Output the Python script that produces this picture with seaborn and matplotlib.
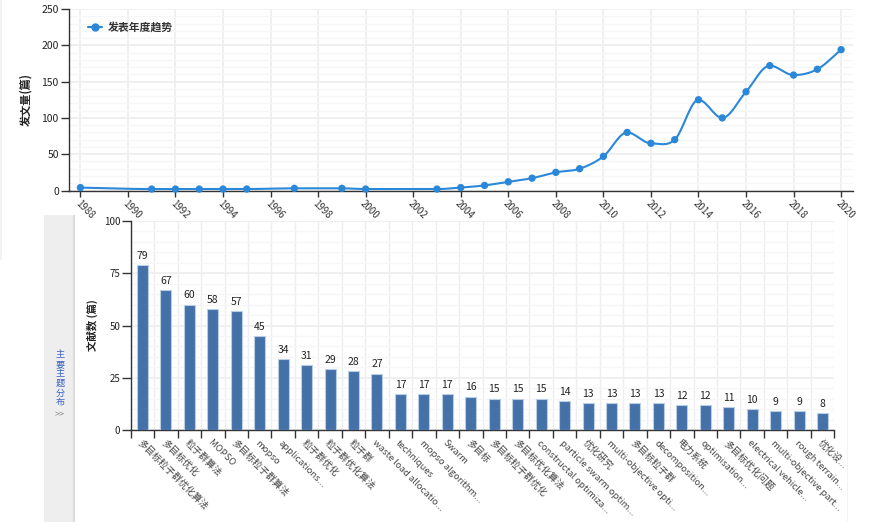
import numpy as np
import pandas as pd
import matplotlib
matplotlib.use('Agg')
import matplotlib.pyplot as plt
from matplotlib.patches import Rectangle
from matplotlib.ticker import MultipleLocator, FixedLocator
import seaborn as sns

# Datos
years = [1988, 1991, 1992, 1993, 1994, 1995, 1997, 1999, 2000, 2003, 2004, 2005, 2006, 2007,
         2008, 2009, 2010, 2011, 2012, 2013, 2014, 2015, 2016, 2017, 2018, 2019, 2020]
papers = [4, 2, 2, 2, 2, 2, 3, 3, 2, 2, 4, 7, 12, 17,
          25, 30, 47, 80, 65, 70, 125, 100, 136, 172, 159, 167, 194]

topics = ['多目标粒子群优化算法', '多目标优化', '粒子群算法', 'MOPSO', '多目标粒子群算法', 'mopso',
          'applications...', '粒子群优化', '粒子群优化算法', '粒子群', 'waste load allocatio...',
          'techniques', 'mopso algorithm...', 'Swarm', '多目标', '多目标粒子群优化', '多目标优化算法',
          'constructal optimiza...', 'particle swarm optim...', '优化研究', 'multi-objective opti...',
          '多目标粒子群', 'decomposition...', '电力系统', 'optimisation...', '多目标优化问题',
          'electrical vehicle...', 'multi-objective part...', 'rough terrain...', '优化设...']
counts = [79, 67, 60, 58, 57, 45, 34, 31, 29, 28, 27, 17, 17, 17, 16, 15, 15, 15, 14, 13, 13, 13, 13,
          12, 12, 11, 10, 9, 9, 8]

W, H = 872, 522
LINE_COLOR = '#2b88d8'
BAR_COLOR = '#4472a8'
GRID_MAJOR = '#eeeeee'
GRID_MINOR = '#f6f6f6'
AXIS_COLOR = '#333333'

sns.set_theme(style='white')
plt.rcParams['font.family'] = ['Noto Sans CJK SC', 'DejaVu Sans']


def px_axes(fig, left, top, right, bottom):
    return fig.add_axes([left / W, 1 - bottom / H, (right - left) / W, (bottom - top) / H])


def smooth_curve(x, y, steps=16):
    # curva suave entre puntos, tangente cero en los extremos locales
    x = np.array(x, dtype=float)
    y = np.array(y, dtype=float)
    dy = np.gradient(y, x)
    slopes = np.diff(y) / np.diff(x)
    for i in range(1, len(x) - 1):
        if slopes[i - 1] * slopes[i] <= 0:
            dy[i] = 0
    xs, ys = [], []
    for i in range(len(x) - 1):
        h = x[i + 1] - x[i]
        t = np.linspace(0, 1, steps, endpoint=False)
        a = 2 * t**3 - 3 * t**2 + 1
        b = t**3 - 2 * t**2 + t
        c = -2 * t**3 + 3 * t**2
        d = t**3 - t**2
        xs.extend(x[i] + t * h)
        ys.extend(a * y[i] + b * h * dy[i] + c * y[i + 1] + d * h * dy[i + 1])
    xs.append(x[-1])
    ys.append(y[-1])
    return np.array(xs), np.array(ys)


def style_axes(ax):
    for side in ['top', 'right']:
        ax.spines[side].set_visible(False)
    for side in ['left', 'bottom']:
        ax.spines[side].set_color(AXIS_COLOR)
        ax.spines[side].set_linewidth(1)
    ax.set_axisbelow(True)


fig = plt.figure(figsize=(W / 100, H / 100), dpi=100, facecolor='white')

# Paneles grises de la pagina
fig.add_artist(Rectangle((0, 1 - 260 / H), 2 / W, 260 / H, transform=fig.transFigure, color='#f3f3f3', lw=0))
fig.add_artist(Rectangle((44 / W, 0), 30 / W, 307 / H, transform=fig.transFigure, color='#eeeeee', lw=0))
fig.add_artist(Rectangle((73 / W, 0), 2 / W, 307 / H, transform=fig.transFigure, color='#dddddd', lw=0))
fig.add_artist(Rectangle((847 / W, 0), 1 / W, 307 / H, transform=fig.transFigure, color='#f3f3f3', lw=0))

# Tendencia anual
ax1 = px_axes(fig, 68.5, 9, 853, 190.5)
xs, ys = smooth_curve(years, papers)
sns.lineplot(x=xs, y=ys, ax=ax1, color=LINE_COLOR, lw=1.5, zorder=3)
sns.scatterplot(x=years, y=papers, ax=ax1, color=LINE_COLOR, s=28, edgecolor='none', zorder=4, clip_on=False)
ax1.set_xlim(1987.5, 2020.5)
ax1.set_ylim(0, 250)
ax1.yaxis.set_major_locator(MultipleLocator(50))
ax1.yaxis.set_minor_locator(MultipleLocator(10))
ax1.set_xticks(range(1988, 2021, 2))
ax1.set_xticklabels([str(y) for y in range(1988, 2021, 2)], rotation=-45, ha='left', va='top',
                    rotation_mode='anchor', fontsize=7, color='#333333')
ax1.tick_params(axis='x', which='major', length=4, width=1, color=AXIS_COLOR, pad=2, bottom=True)
ax1.tick_params(axis='y', which='major', length=6, width=1, color=AXIS_COLOR, pad=1, left=True,
                labelsize=7.5, labelcolor='#222222')
ax1.tick_params(axis='y', which='minor', length=0)
ax1.grid(True, which='major', color=GRID_MAJOR, lw=1.2)
ax1.grid(True, which='minor', axis='y', color=GRID_MINOR, lw=1)
style_axes(ax1)
ax1.set_ylabel('发文量(篇)', fontsize=8, fontweight='bold', color='#222222', va='center')
ax1.yaxis.set_label_coords((26 - 68.5) / 784.5, 0.5)
ax1.plot([0.025, 0.0427], [0.90, 0.90], transform=ax1.transAxes, color=LINE_COLOR, lw=1.5, zorder=5)
ax1.plot([0.0338], [0.90], marker='o', ms=5, transform=ax1.transAxes, color=LINE_COLOR, zorder=5)
ax1.text(0.05, 0.90, '发表年度趋势', transform=ax1.transAxes, fontsize=7.8, fontweight='bold',
         color='#333333', va='center')

# Temas principales
ax2 = px_axes(fig, 130.7, 221, 834.3, 430)
df_topics = pd.DataFrame({'topic': topics, 'count': counts})
sns.barplot(data=df_topics, x='topic', y='count', ax=ax2, color=BAR_COLOR, saturation=1, width=0.47,
            edgecolor='#b9cde4', linewidth=0.8, zorder=3)
ax2.set_xlim(-0.5, len(topics) - 0.5)
ax2.set_ylim(0, 100)
ax2.set_xlabel('')
ax2.set_ylabel('文献数 (篇)', fontsize=7.5, fontweight='bold', color='#222222', va='center')
ax2.yaxis.set_label_coords((92 - 130.7) / 703.6, 0.5)
ax2.yaxis.set_major_locator(MultipleLocator(25))
ax2.yaxis.set_minor_locator(MultipleLocator(5))
ax2.xaxis.set_minor_locator(FixedLocator(np.arange(-0.5, len(topics), 1)))
ax2.set_xticks(range(len(topics)))
ax2.set_xticklabels(topics, rotation=-45, ha='left', va='top', rotation_mode='anchor',
                    fontsize=6.8, color='#444444')
ax2.tick_params(axis='x', which='major', length=0, pad=6)
ax2.tick_params(axis='x', which='minor', length=5.5, width=1, color=AXIS_COLOR, bottom=True)
ax2.tick_params(axis='y', which='major', length=6.5, width=1, color=AXIS_COLOR, pad=1, left=True,
                labelsize=7, labelcolor='#222222')
ax2.tick_params(axis='y', which='minor', length=0)
ax2.grid(True, which='minor', axis='x', color=GRID_MAJOR, lw=1)
ax2.grid(True, which='major', axis='y', color=GRID_MAJOR, lw=1.2)
ax2.grid(True, which='minor', axis='y', color=GRID_MINOR, lw=1)
style_axes(ax2)
for i, v in enumerate(counts):
    ax2.text(i, v + 2, str(v), ha='center', va='bottom', fontsize=7.5, color='#222222')

# Pestana lateral
for i, ch in enumerate('主要主题分布'):
    fig.text(60 / W, 1 - (355 + i * 9.5) / H, ch, ha='center', va='center', fontsize=6.6, color='#3a63c4')
fig.text(60 / W, 1 - 415 / H, '>>', ha='center', va='center', fontsize=6.5, color='#888888')

fig.savefig('out.png', dpi=100)
